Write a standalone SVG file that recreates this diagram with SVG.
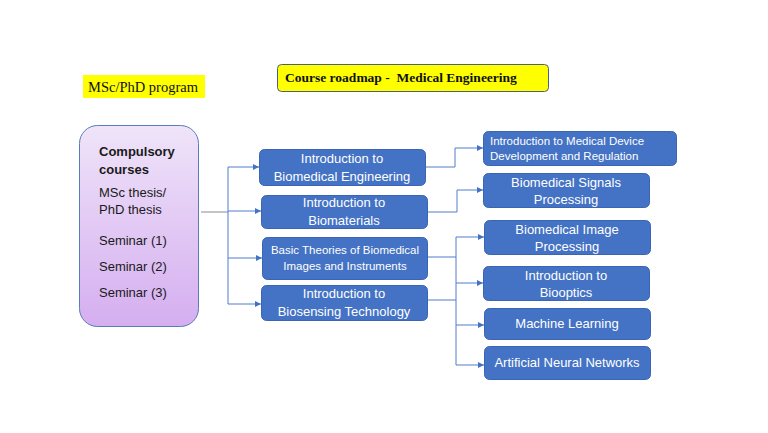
<svg xmlns="http://www.w3.org/2000/svg" width="768" height="433" viewBox="0 0 768 433">
<defs>
<linearGradient id="lav" x1="0" y1="0" x2="0" y2="1">
<stop offset="0" stop-color="#efe4f9"/>
<stop offset="1" stop-color="#d5aef0"/>
</linearGradient>
<marker id="ah" viewBox="0 0 6 6" refX="6" refY="3" markerWidth="6" markerHeight="6" markerUnits="userSpaceOnUse" orient="auto">
<path d="M0,0 L6,3 L0,6 z" fill="#4472c4"/>
</marker>
</defs>
<style>
.nd{fill:#4472c4;stroke:#3a65b5;stroke-width:1}
.t{font-family:"Liberation Sans",Arial,sans-serif;fill:#ffffff;text-anchor:middle;font-size:13px}
.ts{font-family:"Liberation Sans",Arial,sans-serif;fill:#ffffff;text-anchor:middle;font-size:11.5px}
.tl{font-family:"Liberation Sans",Arial,sans-serif;fill:#ffffff;text-anchor:start;font-size:11.5px}
.lt{font-family:"Liberation Sans",Arial,sans-serif;fill:#1a1a1a;font-size:13px}
.c{fill:none;stroke:#4f7fd0;stroke-width:1}
.sr{font-family:"Liberation Serif","Times New Roman",serif;fill:#111}
</style>
<rect width="768" height="433" fill="#ffffff"/>
<g id="program-label">
<rect x="83" y="75" width="122" height="23" fill="#ffff00"/>
<text class="sr" x="88" y="92" font-size="14.5">MSc/PhD program</text>
</g>
<g id="title">
<rect x="277.5" y="64.5" width="271" height="27" rx="4" fill="#ffff00" stroke="#4a6080"/>
<text class="sr" x="285" y="82" font-size="13.5" font-weight="bold" xml:space="preserve">Course roadmap -  Medical Engineering</text>
</g>
<g id="compulsory">
<rect x="79.5" y="125.5" width="119" height="201" rx="18" fill="url(#lav)" stroke="#5a7cb8"/>
<text class="lt" x="99" y="156" font-weight="bold">Compulsory</text>
<text class="lt" x="99" y="174" font-weight="bold">courses</text>
<text class="lt" x="99" y="197">MSc thesis/</text>
<text class="lt" x="99" y="214">PhD thesis</text>
<text class="lt" x="99" y="245">Seminar (1)</text>
<text class="lt" x="99" y="271">Seminar (2)</text>
<text class="lt" x="99" y="297">Seminar (3)</text>
</g>
<g id="connectors">
<path d="M201,212 H228" stroke="#8a8a8a" fill="none"/>
<path class="c" d="M228,167 V304"/>
<path class="c" d="M228,167 H259" marker-end="url(#ah)"/>
<path class="c" d="M228,211 H261" marker-end="url(#ah)"/>
<path class="c" d="M228,258 H262" marker-end="url(#ah)"/>
<path class="c" d="M228,304 H261" marker-end="url(#ah)"/>
<path class="c" d="M425,167 H455 V148 H483" marker-end="url(#ah)"/>
<path class="c" d="M427,212 H457 V190 H483" marker-end="url(#ah)"/>
<path class="c" d="M427,257 H456"/>
<path class="c" d="M456,237 V365"/>
<path class="c" d="M456,237 H484" marker-end="url(#ah)"/>
<path class="c" d="M427,300 H456"/>
<path class="c" d="M456,283 H483" marker-end="url(#ah)"/>
<path class="c" d="M456,325 H484" marker-end="url(#ah)"/>
<path class="c" d="M456,365 H484" marker-end="url(#ah)"/>
</g>
<g id="intro-bme">
<rect class="nd" x="259.5" y="149.5" width="166" height="36" rx="5"/>
<text class="t" x="342" y="163">Introduction to</text>
<text class="t" x="342" y="181">Biomedical Engineering</text>
</g>
<g id="intro-biomaterials">
<rect class="nd" x="261.5" y="195.5" width="166" height="33" rx="5"/>
<text class="t" x="344" y="207">Introduction to</text>
<text class="t" x="344" y="225">Biomaterials</text>
</g>
<g id="basic-theories">
<rect class="nd" x="262.5" y="237.5" width="165" height="42" rx="5"/>
<text class="ts" x="345" y="254">Basic Theories of Biomedical</text>
<text class="ts" x="345" y="270">Images and Instruments</text>
</g>
<g id="intro-biosensing">
<rect class="nd" x="261.5" y="285.5" width="166" height="35" rx="5"/>
<text class="t" x="344" y="298">Introduction to</text>
<text class="t" x="344" y="316">Biosensing Technology</text>
</g>
<g id="med-device">
<rect class="nd" x="483.5" y="131.5" width="193" height="34" rx="5"/>
<text class="tl" x="490" y="145">Introduction to Medical Device</text>
<text class="tl" x="490" y="160">Development and Regulation</text>
</g>
<g id="signals">
<rect class="nd" x="483.5" y="173.5" width="166" height="34" rx="5"/>
<text class="t" x="566" y="187">Biomedical Signals</text>
<text class="t" x="566" y="204">Processing</text>
</g>
<g id="image-proc">
<rect class="nd" x="484.5" y="220.5" width="166" height="34" rx="5"/>
<text class="t" x="567" y="234">Biomedical Image</text>
<text class="t" x="567" y="251">Processing</text>
</g>
<g id="biooptics">
<rect class="nd" x="483.5" y="266.5" width="166" height="34" rx="5"/>
<text class="t" x="566" y="280">Introduction to</text>
<text class="t" x="566" y="297">Biooptics</text>
</g>
<g id="ml">
<rect class="nd" x="484.5" y="308.5" width="166" height="31" rx="5"/>
<text class="t" x="567" y="328">Machine Learning</text>
</g>
<g id="ann">
<rect class="nd" x="484.5" y="346.5" width="166" height="33" rx="5"/>
<text class="t" x="567" y="367">Artificial Neural Networks</text>
</g>
</svg>
